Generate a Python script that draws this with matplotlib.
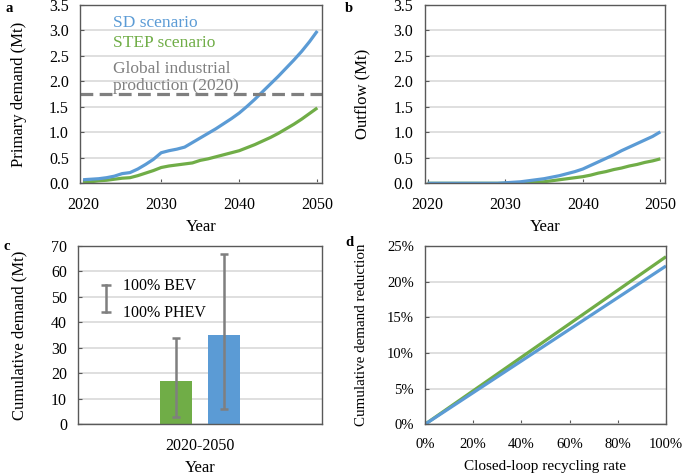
import matplotlib
matplotlib.use("Agg")
import matplotlib.pyplot as plt
from matplotlib.ticker import PercentFormatter

# ---- data ----
years = list(range(2020, 2051))

# a: primary demand (Mt)
sd_demand = [0.07, 0.08, 0.09, 0.11, 0.14, 0.19, 0.21, 0.28, 0.37, 0.47,
             0.60, 0.64, 0.67, 0.71, 0.80, 0.89, 0.98, 1.07, 1.17, 1.27,
             1.38, 1.51, 1.65, 1.80, 1.95, 2.10, 2.26, 2.42, 2.59, 2.78, 2.99]
step_demand = [0.01, 0.03, 0.05, 0.06, 0.08, 0.10, 0.11, 0.15, 0.20, 0.25,
               0.31, 0.34, 0.36, 0.38, 0.40, 0.45, 0.48, 0.52, 0.56, 0.60,
               0.64, 0.70, 0.76, 0.83, 0.90, 0.98, 1.07, 1.16, 1.26, 1.37, 1.48]
global_production_2020 = 1.75

# b: outflow (Mt)
sd_outflow = [0.0] * 10 + [0.01, 0.02, 0.03, 0.05, 0.07, 0.09, 0.12, 0.15, 0.19, 0.23,
                           0.28, 0.35, 0.42, 0.49, 0.56, 0.64, 0.71, 0.78, 0.85, 0.92, 1.01]
step_outflow = [0.0] * 12 + [0.005, 0.01, 0.02, 0.03, 0.05, 0.07, 0.09, 0.11,
                             0.13, 0.16, 0.20, 0.23, 0.27, 0.30, 0.34, 0.37, 0.41, 0.44, 0.48]

# c: cumulative demand 2020-2050 (Mt), bar value with PHEV / BEV range
period = "2020-2050"
cum_values = [17.0, 35.0]          # STEP, SD
cum_low = [3.0, 6.0]               # 100% PHEV
cum_high = [34.0, 67.0]            # 100% BEV

# d: cumulative demand reduction vs closed-loop recycling rate
recycling_rate = [0.0, 0.2, 0.4, 0.6, 0.8, 1.0]
step_reduction = [0.0, 0.047, 0.094, 0.141, 0.188, 0.235]
sd_reduction = [0.0, 0.0444, 0.0888, 0.1332, 0.1776, 0.222]

BLUE = "#5B9BD5"
GREEN = "#70AD47"
GRAY = "#7F7F7F"
GRID = "#D9D9D9"
FRAME = "#595959"

plt.rcParams["font.family"] = ["Liberation Serif", "DejaVu Serif"]
plt.rcParams["font.size"] = 11


def style_axes(ax, labelsize=11.5):
    """Excel-like frame: grey box, light horizontal grid, short inward ticks."""
    for sp in ax.spines.values():
        sp.set_color(FRAME)
        sp.set_linewidth(1.0)
    ax.yaxis.grid(True, color=GRID, linewidth=1.2)
    ax.set_axisbelow(True)
    ax.tick_params(direction="in", length=3, color=FRAME, labelsize=labelsize,
                   top=False, right=False)
    ax.tick_params(axis="y", pad=8)
    ax.tick_params(axis="x", pad=10)


def px_axes(fig, left, right, top, bottom, W=685, H=475):
    return fig.add_axes([left / W, (H - bottom) / H, (right - left) / W, (bottom - top) / H])


def main():
    fig = plt.figure(figsize=(6.85, 4.75), dpi=100)

    # ---- a ----
    ax = px_axes(fig, 80, 322, 5, 183.3)
    style_axes(ax)
    ax.plot(years, step_demand, color=GREEN, lw=2.3, solid_capstyle="butt")
    ax.plot(years, sd_demand, color=BLUE, lw=2.3, solid_capstyle="butt")
    ax.axhline(global_production_2020, color=GRAY, lw=2.3, dashes=(4, 2))
    ax.set_xlim(2019.6, 2050.6)
    ax.set_ylim(0, 3.5)
    ax.set_xticks([2020, 2030, 2040, 2050])
    ax.set_yticks([0, 0.5, 1.0, 1.5, 2.0, 2.5, 3.0, 3.5])
    ax.set_yticklabels([f"{v:.1f}" for v in ax.get_yticks()])
    ax.set_ylabel("Primary demand (Mt)", fontsize=12)
    ax.yaxis.set_label_coords(-0.219, 0.5)
    ax.set_xlabel("Year", fontsize=12)
    ax.xaxis.set_label_coords(0.5, -0.2)
    ax.text(0.136, 0.899, "SD scenario", color=BLUE, fontsize=12.5,
            transform=ax.transAxes, va="center")
    ax.text(0.136, 0.787, "STEP scenario", color=GREEN, fontsize=12.5,
            transform=ax.transAxes, va="center")
    ax.text(0.136, 0.593, "Global industrial\nproduction (2020)", color=GRAY,
            fontsize=12.5, transform=ax.transAxes, va="center", linespacing=1.1)
    fig.text(5 / 685, 1 - 9 / 475, "a", fontweight="bold", fontsize=10.5, va="center")

    # ---- b ----
    ax = px_axes(fig, 424.5, 665, 5, 183.3)
    style_axes(ax)
    ax.plot(years, step_outflow, color=GREEN, lw=2.3, solid_capstyle="butt")
    ax.plot(years, sd_outflow, color=BLUE, lw=2.3, solid_capstyle="butt")
    ax.set_xlim(2019.6, 2050.6)
    ax.set_ylim(0, 3.5)
    ax.set_xticks([2020, 2030, 2040, 2050])
    ax.set_yticks([0, 0.5, 1.0, 1.5, 2.0, 2.5, 3.0, 3.5])
    ax.set_yticklabels([f"{v:.1f}" for v in ax.get_yticks()])
    ax.set_ylabel("Outflow (Mt)", fontsize=12)
    ax.yaxis.set_label_coords(-0.227, 0.5)
    ax.set_xlabel("Year", fontsize=12)
    ax.xaxis.set_label_coords(0.5, -0.2)
    fig.text(345 / 685, 1 - 9 / 475, "b", fontweight="bold", fontsize=10.5, va="center")

    # ---- c ----
    ax = px_axes(fig, 78, 322, 246, 424.3)
    style_axes(ax)
    offsets = [-0.099, 0.099]
    colors = [GREEN, BLUE]
    for off, val, lo, hi, col in zip(offsets, cum_values, cum_low, cum_high, colors):
        ax.bar(off, val, width=0.133, color=col, zorder=2)
        ax.errorbar(off, val, yerr=[[val - lo], [hi - val]], fmt="none",
                    ecolor=GRAY, elinewidth=1.8, capsize=2.6, capthick=1.8, zorder=3)
    ax.set_xlim(-0.5, 0.5)
    ax.set_ylim(0, 70)
    ax.set_yticks(range(0, 71, 10))
    ax.set_xticks([0])
    ax.set_xticklabels([period])
    ax.tick_params(axis="x", length=0, pad=10)
    ax.set_ylabel("Cumulative demand (Mt)", fontsize=12)
    ax.yaxis.set_label_coords(-0.209, 0.5)
    ax.set_xlabel("Year", fontsize=12)
    ax.xaxis.set_label_coords(0.5, -0.2)
    # range key
    ax.plot([0.115, 0.115], [0.628, 0.78], color=GRAY, lw=1.8, transform=ax.transAxes)
    ax.plot([0.115, 0.115], [0.628, 0.78], color=GRAY, lw=0, marker="_", ms=7,
            mew=1.8, transform=ax.transAxes)
    ax.text(0.184, 0.775, "100% BEV", fontsize=11.5, transform=ax.transAxes, va="center")
    ax.text(0.184, 0.625, "100% PHEV", fontsize=11.5, transform=ax.transAxes, va="center")
    fig.text(3 / 685, 1 - 246 / 475, "c", fontweight="bold", fontsize=10.5, va="center")

    # ---- d ----
    ax = px_axes(fig, 425, 666, 246, 424.3)
    style_axes(ax, labelsize=10.5)
    ax.plot(recycling_rate, step_reduction, color=GREEN, lw=2.3, solid_capstyle="butt")
    ax.plot(recycling_rate, sd_reduction, color=BLUE, lw=2.3, solid_capstyle="butt")
    ax.set_xlim(0, 1)
    ax.set_ylim(0, 0.25)
    ax.set_xticks([0, 0.2, 0.4, 0.6, 0.8, 1.0])
    ax.set_yticks([0, 0.05, 0.10, 0.15, 0.20, 0.25])
    ax.xaxis.set_major_formatter(PercentFormatter(1.0, decimals=0))
    ax.yaxis.set_major_formatter(PercentFormatter(1.0, decimals=0))
    ax.set_ylabel("Cumulative demand reduction", fontsize=10.8)
    ax.yaxis.set_label_coords(-0.236, 0.5)
    ax.set_xlabel("Closed-loop recycling rate", fontsize=11)
    ax.xaxis.set_label_coords(0.5, -0.2)
    fig.text(345 / 685, 1 - 243 / 475, "d", fontweight="bold", fontsize=10.5, va="center")

    fig.savefig("out.png", dpi=100)
    plt.close(fig)


if __name__ == "__main__":
    main()
